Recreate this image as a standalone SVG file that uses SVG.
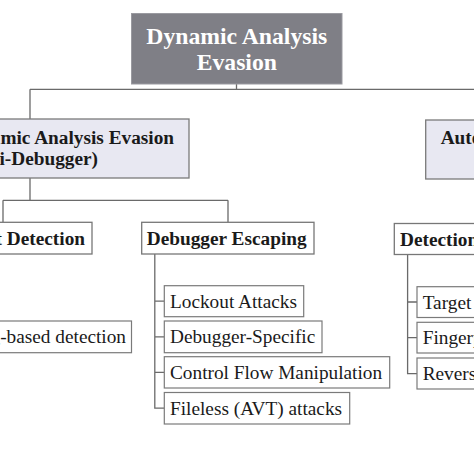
<svg xmlns="http://www.w3.org/2000/svg" width="474" height="474" viewBox="0 0 474 474">
<style>
.bg{fill:#ffffff}
.ln{stroke:#6a6a6a;stroke-width:1.3;fill:none}
.root{fill:#7f7f86;stroke:#9a9aa0;stroke-width:1}
.cat{fill:#e8e8f2;stroke:#7a7a7a;stroke-width:1.3}
.sub{fill:#ffffff;stroke:#777777;stroke-width:1.3}
.leaf{fill:#ffffff;stroke:#7a7a7a;stroke-width:1.2}
.tr{font-family:"Liberation Serif","Times New Roman",serif;font-weight:bold;font-size:23.7px;fill:#ffffff}
.tb{font-family:"Liberation Serif","Times New Roman",serif;font-weight:bold;font-size:19.3px;fill:#1a1a1a}
.tn{font-family:"Liberation Serif","Times New Roman",serif;font-size:19.3px;fill:#1a1a1a}
</style>
<rect class="bg" x="0" y="0" width="474" height="474"/>
<g id="connectors">
<path class="ln" d="M236.5 84V89.3M30 89.3H480M30 89.3V119M30 178V200.3M3 200.3H228M3 200.3V222.3M228 200.3V222.3"/>
<path class="ln" d="M154.8 254V408.2H164.3M154.8 301.2H164.3M154.8 336.8H164.3M154.8 372.3H164.3"/>
<path class="ln" d="M407.6 254.5V373.6H417M407.6 302H417M407.6 337.6H417"/>
</g>
<g id="root">
<rect class="root" x="131.5" y="13.5" width="210.5" height="70.5"/>
<text class="tr" x="236.8" y="43.5" text-anchor="middle">Dynamic Analysis</text>
<text class="tr" x="236.8" y="69.5" text-anchor="middle">Evasion</text>
</g>
<g id="cat-anti-debugger">
<rect class="cat" x="-10" y="119" width="199" height="59"/>
<text class="tb" x="174" y="143.5" text-anchor="end">Dynamic Analysis Evasion</text>
<text class="tb" x="-38" y="165">(Anti-Debugger)</text>
</g>
<g id="cat-auto">
<rect class="cat" x="425.7" y="120" width="80" height="59"/>
<text class="tb" x="440.7" y="144">Automated Analysis Evasion</text>
</g>
<g id="sub-detection-left">
<rect class="sub" x="-60" y="222.3" width="152" height="31.7"/>
<text class="tb" x="85" y="244.5" text-anchor="end">Direct Detection</text>
</g>
<g id="sub-debugger-escaping">
<rect class="sub" x="141.7" y="222.3" width="172.3" height="31.7"/>
<text class="tb" x="146.8" y="244.5">Debugger Escaping</text>
</g>
<g id="sub-detection-right">
<rect class="sub" x="394.3" y="223.5" width="100" height="31"/>
<text class="tb" x="400" y="245.5">Detection Evasion</text>
</g>
<g id="leaf-based-detection">
<rect class="leaf" x="-60" y="321" width="191.5" height="31.7"/>
<text class="tn" x="126" y="343.3" text-anchor="end">Timing-based detection</text>
</g>
<g id="leaf-lockout">
<rect class="leaf" x="164.3" y="285.7" width="139.4" height="31"/>
<text class="tn" x="170" y="307.7">Lockout Attacks</text>
</g>
<g id="leaf-debugger-specific">
<rect class="leaf" x="164.3" y="321" width="157.7" height="31.7"/>
<text class="tn" x="170" y="343.3">Debugger-Specific</text>
</g>
<g id="leaf-control-flow">
<rect class="leaf" x="164.3" y="356.7" width="225.4" height="31.3"/>
<text class="tn" x="170" y="378.8">Control Flow Manipulation</text>
</g>
<g id="leaf-fileless">
<rect class="leaf" x="164.3" y="392.5" width="185.4" height="31.5"/>
<text class="tn" x="170" y="414.6">Fileless (AVT) attacks</text>
</g>
<g id="leaf-target">
<rect class="leaf" x="417" y="286.7" width="80" height="30.8"/>
<text class="tn" x="422.7" y="308.5">Target Detection</text>
</g>
<g id="leaf-finger">
<rect class="leaf" x="417" y="322.3" width="80" height="30.7"/>
<text class="tn" x="422.7" y="344">Fingerprinting</text>
</g>
<g id="leaf-reverse">
<rect class="leaf" x="417" y="358" width="80" height="31"/>
<text class="tn" x="422.7" y="380">Reverse Turing Test</text>
</g>
</svg>
